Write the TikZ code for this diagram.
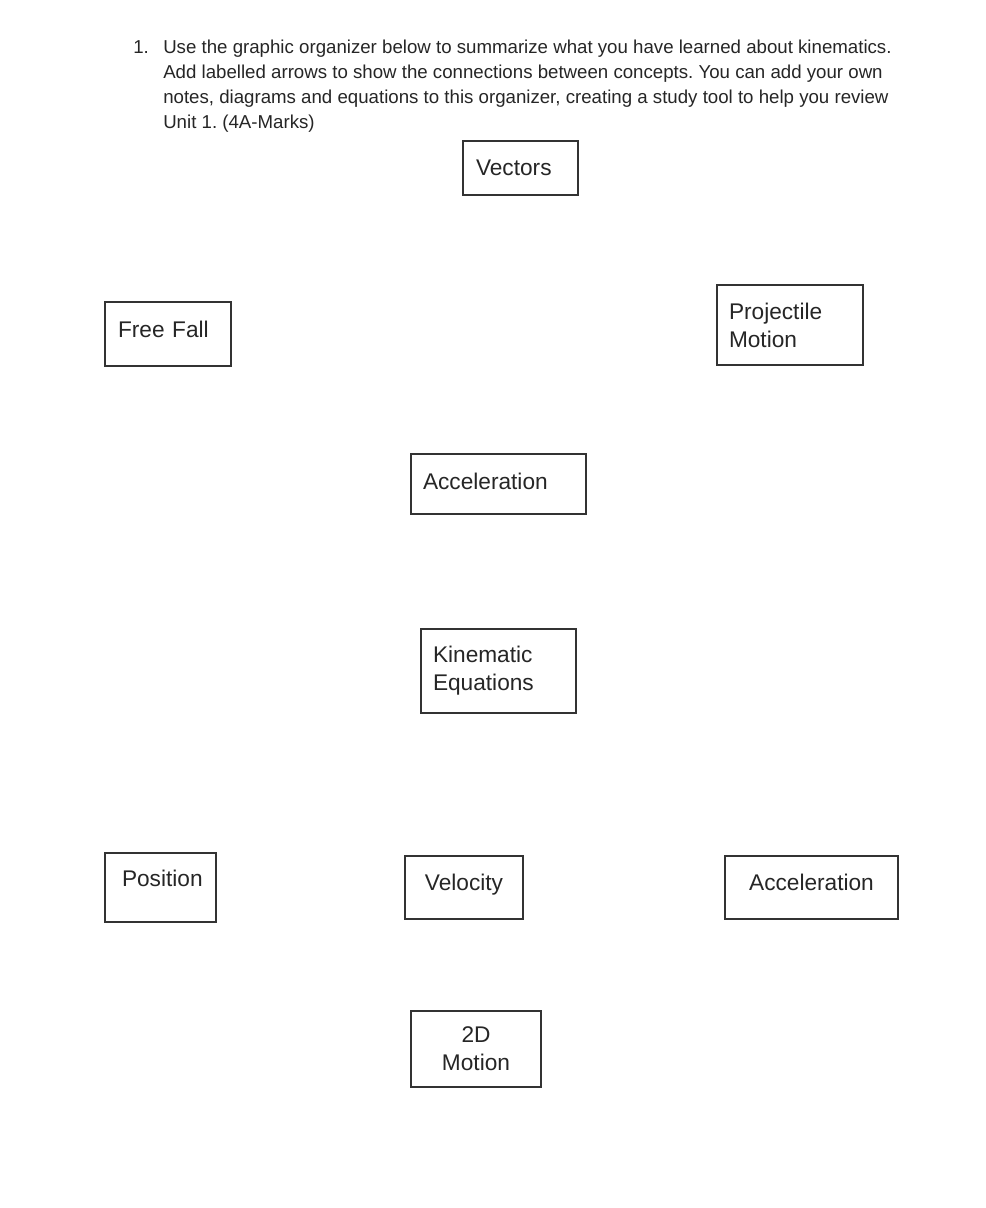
\documentclass[tikz,border=0pt]{standalone}
\usepackage{fontspec}
\setmainfont{Liberation Sans}
\usepackage{tikz}

\begin{document}
\hyphenpenalty=10000
\frenchspacing
\begin{tikzpicture}[x=0.75pt, y=-0.75pt,
	box/.style={draw=black!80, line width=1.1pt, fill=white, text=black!85, font=\fontsize{17}{21}\selectfont, inner ysep=0pt},
	lbox/.style={box, align=left},
	cbox/.style={box, align=center}]
	\useasboundingbox[fill=white] (0,0) rectangle (986,1208);
	\node[anchor=base west, inner sep=0pt, text=black!85, font=\fontsize{14}{18.7}\selectfont] (num) at (133,53) {1.};
	\node[anchor=base west, inner sep=0pt, text=black!85, align=left, font=\fontsize{14}{18.7}\selectfont] (task) at (163,128) {Use the graphic organizer below to summarize what you have learned about kinematics.\\ Add labelled arrows to show the connections between concepts. You can add your own\\ notes, diagrams and equations to this organizer, creating a study tool to help you review\\ Unit 1. (4A-Marks)};
	\node[lbox, text width=66.75pt, inner xsep=9.75pt, minimum height=40.5pt] (vectors) at (520.5,168) {Vectors};
	\node[lbox, text width=75pt, inner xsep=9.75pt, minimum height=48pt, text depth=7.5pt] (freefall) at (168,334) {Free Fall};
	\node[lbox, text width=91.5pt, inner xsep=9pt, minimum height=60pt] (projectile) at (790,325) {Projectile\\ Motion};
	\node[lbox, text width=113.25pt, inner xsep=9pt, minimum height=45pt, text depth=4.5pt] (accel) at (498.5,484) {Acceleration};
	\node[lbox, text width=98.25pt, inner xsep=9pt, minimum height=63pt] (kinematic) at (498.5,671) {Kinematic\\ Equations};
	\node[lbox, text width=57.75pt, inner xsep=12.75pt, minimum height=51.75pt, text depth=14.25pt] (position) at (160.5,887.5) {Position};
	\node[cbox, minimum width=88.5pt, minimum height=47.25pt, text depth=8pt] (velocity) at (464,887.5) {Velocity};
	\node[cbox, minimum width=129.75pt, minimum height=47.25pt, text depth=7.5pt] (accel2) at (811.5,887.5) {Acceleration};
	\node[cbox, minimum width=97.5pt, minimum height=57pt] (motion) at (476,1049) {2D\\ Motion};
\end{tikzpicture}
\end{document}
